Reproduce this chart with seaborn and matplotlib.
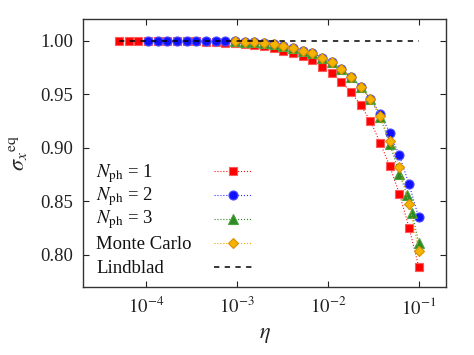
import matplotlib
matplotlib.use("Agg")
import matplotlib.pyplot as plt
import seaborn as sns
import pandas as pd

# eta grid shared by the curves
eta = [5.00e-5, 6.39e-5, 8.17e-5, 1.044e-4, 1.334e-4, 1.704e-4, 2.178e-4, 2.783e-4,
       3.556e-4, 4.544e-4, 5.808e-4, 7.42e-4, 9.48e-4, 1.212e-3, 1.549e-3, 1.979e-3,
       2.529e-3, 3.232e-3, 4.13e-3, 5.28e-3, 6.745e-3, 8.62e-3, 1.102e-2, 1.408e-2,
       1.799e-2, 2.299e-2, 2.938e-2, 3.754e-2, 4.797e-2, 6.13e-2, 7.83e-2, 0.1]

sig_n1 = [1.000, 1.000, 1.000, 1.000, 0.9998, 0.9998, 0.9997, 0.9996, 0.9995, 0.9993,
          0.999, 0.9985, 0.998, 0.9975, 0.996, 0.995, 0.9935, 0.991, 0.989, 0.986,
          0.982, 0.976, 0.970, 0.962, 0.952, 0.940, 0.925, 0.905, 0.883, 0.857,
          0.8255, 0.789]

eta_n2 = eta[3:]
sig_n2 = [1.000, 1.000, 1.000, 1.000, 1.000, 0.9998, 0.9998, 0.9997, 0.9996, 0.9995,
          0.9992, 0.999, 0.998, 0.997, 0.995, 0.9935, 0.991, 0.9885, 0.9845, 0.980,
          0.9735, 0.9667, 0.957, 0.946, 0.932, 0.914, 0.893, 0.866, 0.835]

eta_n3 = eta[12:30] + [0.0745, 0.085, 0.1]
sig_n3 = [0.9995, 0.9992, 0.999, 0.998, 0.997, 0.995, 0.9935, 0.991, 0.9885, 0.9845,
          0.980, 0.9735, 0.9667, 0.957, 0.946, 0.929, 0.904, 0.876, 0.856, 0.839, 0.811]

eta_mc = eta[12:]
sig_mc = [0.9995, 0.9992, 0.999, 0.998, 0.997, 0.995, 0.9935, 0.991, 0.9885, 0.9845,
          0.980, 0.9735, 0.9667, 0.957, 0.946, 0.930, 0.9065, 0.882, 0.848, 0.804]

eta_lind = [5e-5, 0.1]
sig_lind = [1.0, 1.0]

labels = [r"$N_{\mathrm{ph}}$ = 1", r"$N_{\mathrm{ph}}$ = 2", r"$N_{\mathrm{ph}}$ = 3",
          "Monte Carlo", "Lindblad"]

sns.set_theme(style="ticks")
plt.rcParams["font.family"] = ["Liberation Serif", "DejaVu Serif"]
plt.rcParams["mathtext.fontset"] = "stix"

fig = plt.figure(figsize=(4.74, 3.55), dpi=100)
ax = fig.add_axes([0.175, 0.1915, 0.766, 0.755])

series = [
    (eta, sig_n1, dict(marker="s", color="#ff1010", mfc="#ff0000", mec="#ff5a5a", ms=6)),
    (eta_n2, sig_n2, dict(marker="o", color="#3030ff", mfc="#1010ff", mec="#4a4aff", ms=6.5)),
    (eta_n3, sig_n3, dict(marker="^", color="#2e8b22", mfc="#2e8b22", mec="#4aa040", ms=6.5)),
    (eta_mc, sig_mc, dict(marker="D", color="#f0a500", mfc="#f5b400", mec="#d99000", ms=5.2)),
]
handles = []
for x, y, st in series:
    df = pd.DataFrame({"eta": x, "sig": y})
    sns.lineplot(data=df, x="eta", y="sig", ax=ax, linestyle=":", lw=0.8,
                 mew=0.8, **st)
    handles.append(ax.lines[-1])

df_l = pd.DataFrame({"eta": eta_lind, "sig": sig_lind})
sns.lineplot(data=df_l, x="eta", y="sig", ax=ax, color="black", lw=1.1,
             dashes=False, linestyle=(0, (3.5, 3.5)), zorder=5)
handles.append(ax.lines[-1])

ax.set_xscale("log")
ax.set_xlim(2.0e-5, 0.2)
ax.set_ylim(0.77, 1.0205)
ax.set_yticks([0.80, 0.85, 0.90, 0.95, 1.00])
ax.set_yticklabels(["%.2f" % v for v in [0.80, 0.85, 0.90, 0.95, 1.00]])
ax.set_xticks([1e-4, 1e-3, 1e-2, 1e-1])
ax.set_xticklabels([r"$10^{-4}$", r"$10^{-3}$", r"$10^{-2}$", r"$10^{-1}$"])
ax.minorticks_off()
ax.tick_params(direction="in", length=4, width=0.8, top=True, right=True,
               labelsize=13.5, pad=7, colors="#222222")
for s in ax.spines.values():
    s.set_linewidth(1.0)
    s.set_color("#333333")

ax.set_xlabel(r"$\eta$", fontsize=16, labelpad=6)
ax.set_ylabel(r"$\sigma_x{}^{\mathrm{eq}}$", fontsize=16, labelpad=8)

# legend: handles on the right, labels left-aligned as separate texts
leg = ax.legend(handles, [" "] * 5, loc="center", bbox_to_anchor=(0.42, 0.247),
                frameon=False, handlelength=2.0, handletextpad=0.0,
                labelspacing=0.36, fontsize=13.5, borderpad=0)
row_y = [0.424, 0.337, 0.250, 0.159, 0.070]
for lab, yy in zip(labels, row_y):
    ax.text(0.037, yy, lab, transform=ax.transAxes, fontsize=13.5,
            va="center", ha="left", color="#111111")

fig.savefig("out.png", dpi=100)
